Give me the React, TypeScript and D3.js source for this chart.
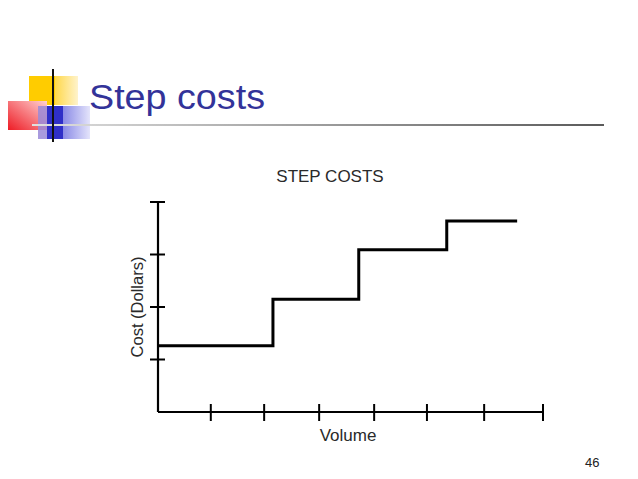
import * as d3 from 'd3';

// chart values
const xTicks = [0.96, 1.93, 2.93, 3.93, 4.89, 5.93, 7];
const yTicks = [1, 2, 3, 4];
const stepVolume = [0, 2.09, 3.65, 5.25, 6.53];
const stepCost = [1.26, 2.15, 3.09, 3.64, 3.64];

const W = 638;
const H = 479;

export default function App() {
  const x = d3.scaleLinear().domain([0, 7]).range([158, 543]);
  const y = d3.scaleLinear().domain([0, 4]).range([412, 202]);

  const points: [number, number][] = stepVolume.map((v, i) => [v, stepCost[i]]);
  const stepPath = d3.line<[number, number]>()
    .x(d => x(d[0]))
    .y(d => y(d[1]))
    .curve(d3.curveStepAfter)(points) || '';

  const font = 'Arial, "Liberation Sans", Helvetica, sans-serif';

  return (
    <svg width={W} height={H} style={{ position: 'fixed', left: 0, top: 0, background: '#fff' }}>
      <defs>
        <linearGradient id="ylw" x1="0" y1="0" x2="1" y2="0">
          <stop offset="0" stopColor="#ffd84a" />
          <stop offset="1" stopColor="#fff3cc" />
        </linearGradient>
        <linearGradient id="red" x1="0" y1="1" x2="1" y2="0">
          <stop offset="0" stopColor="#ee1c25" />
          <stop offset="1" stopColor="#ffd0d0" />
        </linearGradient>
        <linearGradient id="blu" x1="0" y1="0" x2="1" y2="0">
          <stop offset="0" stopColor="#8a8ae6" />
          <stop offset="1" stopColor="#e4e4fb" />
        </linearGradient>
        <linearGradient id="rule" x1="0" y1="0" x2="1" y2="0">
          <stop offset="0" stopColor="#e0e0e0" />
          <stop offset="1" stopColor="#5a5a5a" />
        </linearGradient>
      </defs>

      {/* slide logo */}
      <rect x={29} y={76} width={26} height={29} fill="#ffcc00" />
      <rect x={55} y={76} width={23} height={29} fill="url(#ylw)" />
      <rect x={8} y={101} width={39} height={29} fill="url(#red)" />
      <rect x={38} y={106} width={9} height={33} fill="#9a8ad8" opacity={0.85} />
      <rect x={47} y={106} width={16} height={33} fill="#2f2fc8" />
      <rect x={63} y={106} width={27} height={33} fill="url(#blu)" />
      <rect x={32} y={124} width={572} height={2} fill="url(#rule)" />
      <line x1={53} x2={53} y1={69} y2={142} stroke="#111" strokeWidth={2} />

      <text x={89} y={109} fontFamily={font} fontSize={35} fill="#333399" textLength={176} lengthAdjust="spacingAndGlyphs">
        Step costs
      </text>

      {/* chart */}
      <text x={330} y={182} textAnchor="middle" fontFamily={font} fontSize={17} fill="#2a2a2a">
        STEP COSTS
      </text>

      <line x1={x(0)} x2={x(0)} y1={y(4)} y2={y(0)} stroke="#000" strokeWidth={2.2} />
      <line x1={x(0)} x2={x(7)} y1={y(0)} y2={y(0)} stroke="#000" strokeWidth={2.2} />
      {yTicks.map(t => (
        <line key={'y' + t} x1={x(0) - 8} x2={x(0) + 7} y1={y(t)} y2={y(t)} stroke="#000" strokeWidth={2} />
      ))}
      {xTicks.map(t => (
        <line key={'x' + t} x1={x(t)} x2={x(t)} y1={y(0) - 8} y2={y(0) + 9} stroke="#000" strokeWidth={2} />
      ))}

      <path d={stepPath} fill="none" stroke="#000" strokeWidth={3} strokeLinejoin="miter" />

      <text x={348} y={441} textAnchor="middle" fontFamily={font} fontSize={17} fill="#2a2a2a">
        Volume
      </text>
      <text
        transform={`translate(143,307) rotate(-90)`}
        textAnchor="middle"
        fontFamily={font}
        fontSize={16.5}
        fill="#2a2a2a"
      >
        Cost (Dollars)
      </text>

      <text x={585} y={467} fontFamily={font} fontSize={13} fill="#222">
        46
      </text>
    </svg>
  );
}
